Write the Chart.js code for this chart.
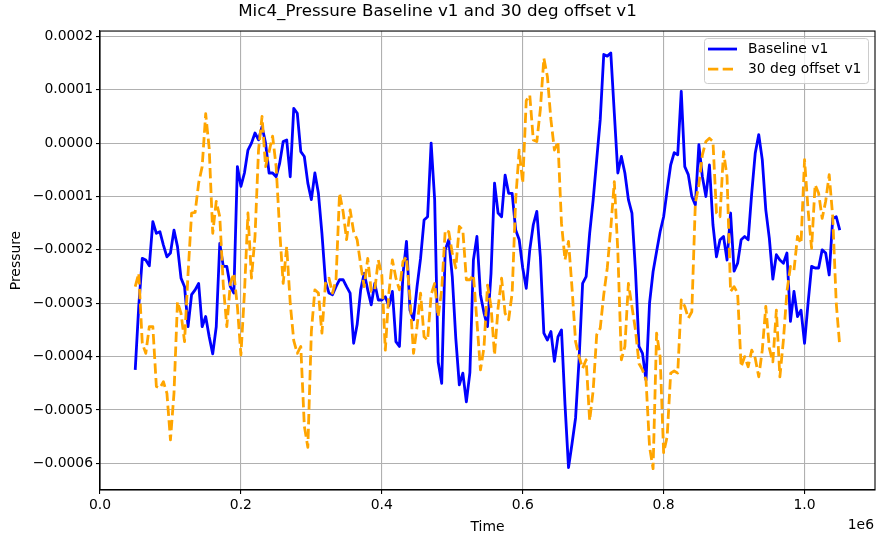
<!DOCTYPE html>
<html>
<head>
<meta charset="utf-8">
<script src="https://cdn.jsdelivr.net/npm/chart.js@4.4.0/dist/chart.umd.min.js"></script>
<style>
  html, body { margin: 0; padding: 0; background: #fff; }
  #chart { display: block; }
</style>
</head>
<body>
<canvas id="chart" width="884" height="545"></canvas>
<script>
// sample times, in thousands
const timeK = [
  50, 55, 60, 65, 70, 75, 80, 85, 90, 95,
  100, 105, 110, 115, 120, 125, 130, 135, 140, 145, 150, 155, 160, 165, 170, 175, 180, 185, 190, 195,
  200, 205, 210, 215, 220, 225, 230, 235, 240, 245, 250, 255, 260, 265, 270, 275, 280, 285, 290, 295,
  300, 305, 310, 315, 320, 325, 330, 335, 340, 345, 350, 355, 360, 365, 370, 375, 380, 385, 390, 395,
  400, 405, 410, 415, 420, 425, 430, 435, 440, 445, 450, 455, 460, 465, 470, 475, 480, 485, 490, 495,
  500, 505, 510, 515, 520, 525, 530, 535, 540, 545, 550, 555, 560, 565, 570, 575, 580, 585, 590, 595,
  600, 605, 610, 615, 620, 625, 630, 635, 640, 645, 650, 655, 660, 665, 670, 675, 680, 685, 690, 695,
  700, 705, 710, 715, 720, 725, 730, 735, 740, 745, 750, 755, 760, 765, 770, 775, 780, 785, 790, 795,
  800, 805, 810, 815, 820, 825, 830, 835, 840, 845, 850, 855, 860, 865, 870, 875, 880, 885, 890, 895,
  900, 905, 910, 915, 920, 925, 930, 935, 940, 945, 950, 955, 960, 965, 970, 975, 980, 985, 990, 995,
  1000, 1005, 1010, 1015, 1020, 1025, 1030, 1035, 1040, 1045, 1050
];

// pressure, in units of 1e-4
const baselineE4 = [
  -4.25, -3.06, -2.16, -2.19, -2.3, -1.47, -1.69, -1.66, -1.91, -2.13,
  -2.06, -1.63, -1.94, -2.53, -2.69, -3.44, -2.84, -2.75, -2.63, -3.44,
  -3.25, -3.63, -3.95, -3.44, -1.88, -2.31, -2.31, -2.69, -2.81, -0.44,
  -0.81, -0.56, -0.13, 0, 0.19, 0.06, 0.31, 0, -0.56, -0.56,
  -0.63, -0.38, 0.03, 0.06, -0.63, 0.65, 0.56, -0.16, -0.25, -0.75,
  -1.06, -0.56, -0.94, -1.69, -2.59, -2.81, -2.84, -2.69, -2.56, -2.56,
  -2.69, -2.81, -3.75, -3.4, -2.75, -2.44, -2.75, -3.03, -2.63, -2.94,
  -2.94, -2.88, -3.05, -2.78, -3.72, -3.81, -2.47, -1.84, -3.13, -3.31,
  -2.69, -2.16, -1.44, -1.38, 0, -1.06, -4.1, -4.5, -2.0, -1.81,
  -2.5, -3.66, -4.53, -4.31, -4.85, -4.3, -2.19, -1.75, -2.84, -3.18,
  -3.44, -2.44, -0.75, -1.31, -1.38, -0.6, -0.94, -0.94, -1.63, -1.81,
  -2.34, -2.72, -2.0, -1.53, -1.28, -2.13, -3.56, -3.69, -3.53, -4.09,
  -3.63, -3.5, -4.9, -6.08, -5.63, -5.15, -4.05, -2.63, -2.5, -1.69,
  -1.06, -0.31, 0.44, 1.66, 1.63, 1.69, 0.56, -0.56, -0.25, -0.56,
  -1.06, -1.31, -2.38, -3.81, -3.94, -4.44, -3.0, -2.41, -2.03, -1.66,
  -1.38, -0.88, -0.41, -0.18, -0.22, 0.97, -0.44, -0.59, -1.0, -1.16,
  -0.03, -0.63, -1.0, -0.41, -1.53, -2.13, -1.81, -1.75, -2.19, -1.31,
  -2.4, -2.25, -1.81, -1.75, -1.81, -0.94, -0.19, 0.16, -0.31, -1.25,
  -1.78, -2.55, -2.09, -2.19, -2.25, -2.06, -3.34, -2.78, -3.25, -3.13,
  -3.75, -3.0, -2.31, -2.34, -2.34, -2.0, -2.06, -2.47, -1.41, -1.38,
  -1.63
];

const offsetE4 = [
  -2.69, -2.44, -3.75, -3.94, -3.44, -3.44, -4.56, -4.59, -4.47, -4.69,
  -5.56, -4.69, -2.97, -3.19, -3.72, -2.44, -1.31, -1.3, -0.75, -0.44,
  0.55, -0.1, -1.69, -1.09, -1.38, -2.66, -3.44, -2.63, -2.44, -3.06,
  -3.97, -2.81, -1.31, -2.53, -1.75, -0.13, 0.5, -0.44, -0.16, 0.13,
  -0.44, -1.63, -2.63, -1.94, -3.0, -3.7, -3.94, -3.81, -5.3, -5.7,
  -3.53, -2.75, -2.81, -3.56, -2.63, -2.53, -2.81, -2.56, -0.94, -1.28,
  -1.81, -1.25, -1.66, -1.81, -2.28, -2.69, -2.16, -2.78, -2.75, -2.19,
  -2.47, -3.88, -2.81, -2.19, -2.53, -2.75, -2.22, -2.13, -2.91, -3.94,
  -3.44, -2.81, -3.63, -3.69, -2.84, -2.63, -3.25, -2.75, -1.63, -1.66,
  -2.06, -2.34, -1.56, -1.63, -2.56, -2.56, -2.47, -3.34, -4.25, -3.83,
  -2.66, -3.06, -3.97, -3.09, -2.53, -3.19, -3.31, -2.81, -1.06, -0.13,
  -0.75, 0.8, 0.9, 0.06, 0.03, 0.63, 1.59, 1.25, 0.44, -0.13,
  0.03, -1.5, -2.19, -1.84, -2.72, -3.72, -4.0, -4.22, -4.06, -5.2,
  -4.63, -3.59, -3.47, -2.84, -2.34, -1.59, -0.72, -2.03, -4.06, -3.81,
  -2.63, -3.06, -3.5, -4.13, -4.25, -4.44, -5.69, -6.1, -3.56, -4.0,
  -5.8, -5.5, -4.31, -4.27, -4.31, -2.94, -3.06, -3.28, -3.16, -1.13,
  -0.78, -0.22, 0.03, 0.09, 0.03, -1.31, -1.38, -0.16, -0.63, -2.78,
  -2.69, -2.81, -4.19, -4.0, -4.19, -3.88, -4.03, -4.38, -3.88, -3.06,
  -3.84, -4.1, -3.13, -4.38, -3.69, -2.78, -2.31, -2.38, -1.75, -1.88,
  -0.31, -1.25, -1.97, -0.78, -0.94, -1.41, -1.09, -0.59, -1.38, -3.0,
  -3.81
];

// axis ticks (x in units of 1e6, y in units of 1e-4)
const xTicksE6 = [0, 0.2, 0.4, 0.6, 0.8, 1.0];
const yTicksE4 = [-6, -5, -4, -3, -2, -1, 0, 1, 2];

const FONT = 'DejaVu Sans';
const tickFont = { family: FONT, size: 13.9 };

function toPoints(values) {
  return timeK.map((t, i) => ({ x: t * 1000, y: values[i] * 1e-4 }));
}

// axes frame, legend box and the 1e6 offset label
const extras = {
  id: 'extras',
  afterDatasetsDraw(chart) {
    const { ctx, chartArea: a } = chart;
    ctx.save();
    ctx.strokeStyle = '#000';
    ctx.lineWidth = 1.1;
    ctx.strokeRect(a.left, a.top, a.right - a.left, a.bottom - a.top);
    ctx.restore();
  },
  afterDraw(chart) {
    const { ctx, chartArea: a } = chart;
    ctx.save();
    const bx = a.right - 171, by = a.top + 7, bw = 164, bh = 45;
    ctx.beginPath();
    ctx.roundRect(bx + 0.5, by + 0.5, bw, bh, 3);
    ctx.fillStyle = 'rgba(255,255,255,0.8)';
    ctx.fill();
    ctx.strokeStyle = '#cccccc';
    ctx.lineWidth = 1;
    ctx.stroke();

    ctx.font = '13.9px "' + FONT + '"';
    ctx.textBaseline = 'middle';
    ctx.textAlign = 'left';
    chart.data.datasets.forEach((ds, i) => {
      const y = by + 11 + i * 20;
      ctx.beginPath();
      ctx.setLineDash(ds.borderDash || []);
      ctx.strokeStyle = ds.borderColor;
      ctx.lineWidth = ds.borderWidth;
      ctx.moveTo(bx + 4, y);
      ctx.lineTo(bx + 33, y);
      ctx.stroke();
      ctx.setLineDash([]);
      ctx.fillStyle = '#000';
      ctx.fillText(ds.label, bx + 44, y);
    });

    ctx.textAlign = 'right';
    ctx.fillStyle = '#000';
    ctx.fillText('1e6', a.right - 1, a.bottom + 35);
    ctx.restore();
  }
};

new Chart(document.getElementById('chart'), {
  type: 'line',
  data: {
    datasets: [
      {
        label: 'Baseline v1',
        data: toPoints(baselineE4),
        borderColor: 'blue',
        borderWidth: 2.8,
        borderJoinStyle: 'round',
        pointRadius: 0,
        order: 1
      },
      {
        label: '30 deg offset v1',
        data: toPoints(offsetE4),
        borderColor: 'orange',
        borderWidth: 2.8,
        borderDash: [10.3, 4.4],
        borderJoinStyle: 'round',
        pointRadius: 0,
        order: 0
      }
    ]
  },
  options: {
    responsive: false,
    animation: false,
    devicePixelRatio: 1,
    layout: { padding: { left: 0, right: 9, top: 0, bottom: 0 } },
    plugins: {
      legend: { display: false },
      tooltip: { enabled: false },
      title: {
        display: true,
        text: 'Mic4_Pressure Baseline v1 and 30 deg offset v1',
        color: '#000',
        font: { family: FONT, size: 16.7, weight: 'normal' },
        padding: { top: 2, bottom: 9 }
      }
    },
    scales: {
      x: {
        type: 'linear',
        min: 0,
        max: 1.1e6,
        afterBuildTicks: s => { s.ticks = xTicksE6.map(v => ({ value: v * 1e6 })); },
        ticks: {
          maxRotation: 0,
          autoSkip: false,
          color: '#000',
          font: tickFont,
          padding: 3,
          callback: v => (v / 1e6).toFixed(1)
        },
        grid: { color: '#b0b0b0', lineWidth: 1.1, tickColor: '#000', tickLength: 4, tickWidth: 1.1 },
        border: { color: '#000', width: 1.1 },
        title: { display: true, text: 'Time', color: '#000', font: tickFont, padding: { top: 0, bottom: 9 } },
        afterFit: s => { s.height = 55; }
      },
      y: {
        type: 'linear',
        min: -0.00065,
        max: 0.00021,
        afterBuildTicks: s => { s.ticks = yTicksE4.map(v => ({ value: v * 1e-4 })); },
        ticks: {
          autoSkip: false,
          color: '#000',
          font: tickFont,
          padding: 3,
          callback: v => Math.abs(v) < 1e-12 ? '0.0000' : v.toFixed(4).replace('-', '\u2212')
        },
        grid: { color: '#b0b0b0', lineWidth: 1.1, tickColor: '#000', tickLength: 4, tickWidth: 1.1 },
        border: { color: '#000', width: 1.1 },
        title: { display: true, text: 'Pressure', color: '#000', font: tickFont, padding: { top: 8, bottom: 0 } },
        afterFit: s => { s.width = 100; }
      }
    }
  },
  plugins: [extras]
});
</script>
</body>
</html>
